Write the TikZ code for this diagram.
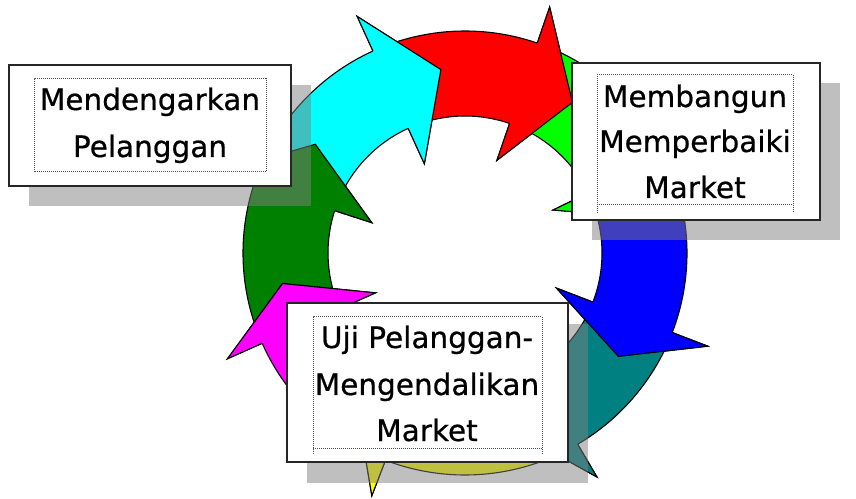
\documentclass[tikz,border=0pt]{standalone}
\usepackage{fontspec}
\setmainfont{DejaVu Sans}
\newfontfamily\boxfont[FakeBold=0.6]{DejaVu Sans}
\definecolor{cgreen}{RGB}{0,128,0}
\definecolor{ccyan}{RGB}{0,255,255}
\definecolor{cred}{RGB}{255,0,0}
\definecolor{clime}{RGB}{0,255,0}
\definecolor{cblue}{RGB}{0,0,255}
\definecolor{cteal}{RGB}{0,128,128}
\definecolor{cyellow}{RGB}{255,255,0}
\definecolor{cmagenta}{RGB}{255,0,255}
\definecolor{shadowgray}{RGB}{128,128,128}
\tikzset{
  arr/.style={draw=black, line width=1.1pt},
  shadowbox/.style={fill=shadowgray, fill opacity=0.5, draw=none},
  labelbox/.style={fill=white, draw=black!85, line width=1.4pt},
  frame/.style={draw=black!70, densely dotted, line width=1pt},
  txt/.style={font=\boxfont\fontsize{29.5}{35}\selectfont, anchor=base, inner sep=0pt, text=black},
}
% #1 colour, #2 tail angle, #3 barb angle, #4 tip angle
\newcommand\fullarrow[4]{%
  \filldraw[arr, fill=#1] (#2:222pt) arc[start angle=#2, end angle=#3, radius=222pt]
    -- (#3:260pt) -- (#4:185pt) -- (#3:98pt) -- (#3:137pt)
    arc[start angle=#3, end angle=#2, radius=137pt] -- cycle;}
\newcommand\arrowtop[4]{%
  \fill[#1] (#3:222pt) -- (#3:260pt) -- (#4:185pt) -- (#3:98pt) -- (#3:137pt) -- cycle;
  \draw[arr] (#3:222pt) -- (#3:260pt) -- (#4:185pt) -- (#3:98pt) -- (#3:137pt);}
\begin{document}
\begin{tikzpicture}[x=1pt, y=1pt]
\useasboundingbox (0,0) rectangle (856,498);
\fill[white] (0,0) rectangle (856,498);

% ring of arrows
\begin{scope}[shift={(465,245)}]
  \fullarrow{cgreen}{202}{162}{144}
  \fullarrow{ccyan}{160}{114.5}{97.5}
  \fullarrow{cred}{112.5}{71}{54.5}
  \fullarrow{clime}{69}{26}{11}
  \fullarrow{cblue}{24}{-21}{-34}
  \fullarrow{cteal}{-23}{-59.5}{-74.5}
  \fullarrow{cyellow}{-61.5}{-111}{-126}
  \fullarrow{cmagenta}{-113}{-156}{-170.5}
  \arrowtop{cgreen}{202}{162}{144}
  \arrowtop{ccyan}{160}{114.5}{97.5}
  \arrowtop{cred}{112.5}{71}{54.5}
  \arrowtop{clime}{69}{26}{11}
  \arrowtop{cblue}{24}{-21}{-34}
  \arrowtop{cteal}{-23}{-59.5}{-74.5}
  \arrowtop{cyellow}{-61.5}{-111}{-126}
  \arrowtop{cmagenta}{-113}{-156}{-170.5}
\end{scope}

% shadows
\path[shadowbox] (29,292) rectangle (311,413);
\path[shadowbox] (592,258) rectangle (840,415);
\path[shadowbox] (307,15) rectangle (588,174);

% box 1
\path[labelbox] (9,312) rectangle (291,433);
\draw[frame] (34,326) rectangle (266,419);
\node[txt] (t1a) at (150,388) {Mendengarkan};
\node[txt] (t1b) at (150,341) {Pelanggan};

% box 2
\path[labelbox] (572,278) rectangle (820,435);
\draw[frame] (597,285) -- (597,423) -- (793,423) -- (793,285);
\draw[frame] (597,293) -- (793,293);
\node[txt] (t2a) at (695,391) {Membangun};
\node[txt] (t2b) at (695,346) {Memperbaiki};
\node[txt] (t2c) at (695,300) {Market};

% box 3
\path[labelbox] (287,36) rectangle (568,195);
\draw[frame] (313,44) -- (313,181) -- (542,181) -- (542,44);
\draw[frame] (313,50) -- (542,50);
\node[txt] (t3a) at (427,150) {Uji Pelanggan-};
\node[txt] (t3b) at (427,103) {Mengendalikan};
\node[txt] (t3c) at (427,57) {Market};
\end{tikzpicture}
\end{document}
